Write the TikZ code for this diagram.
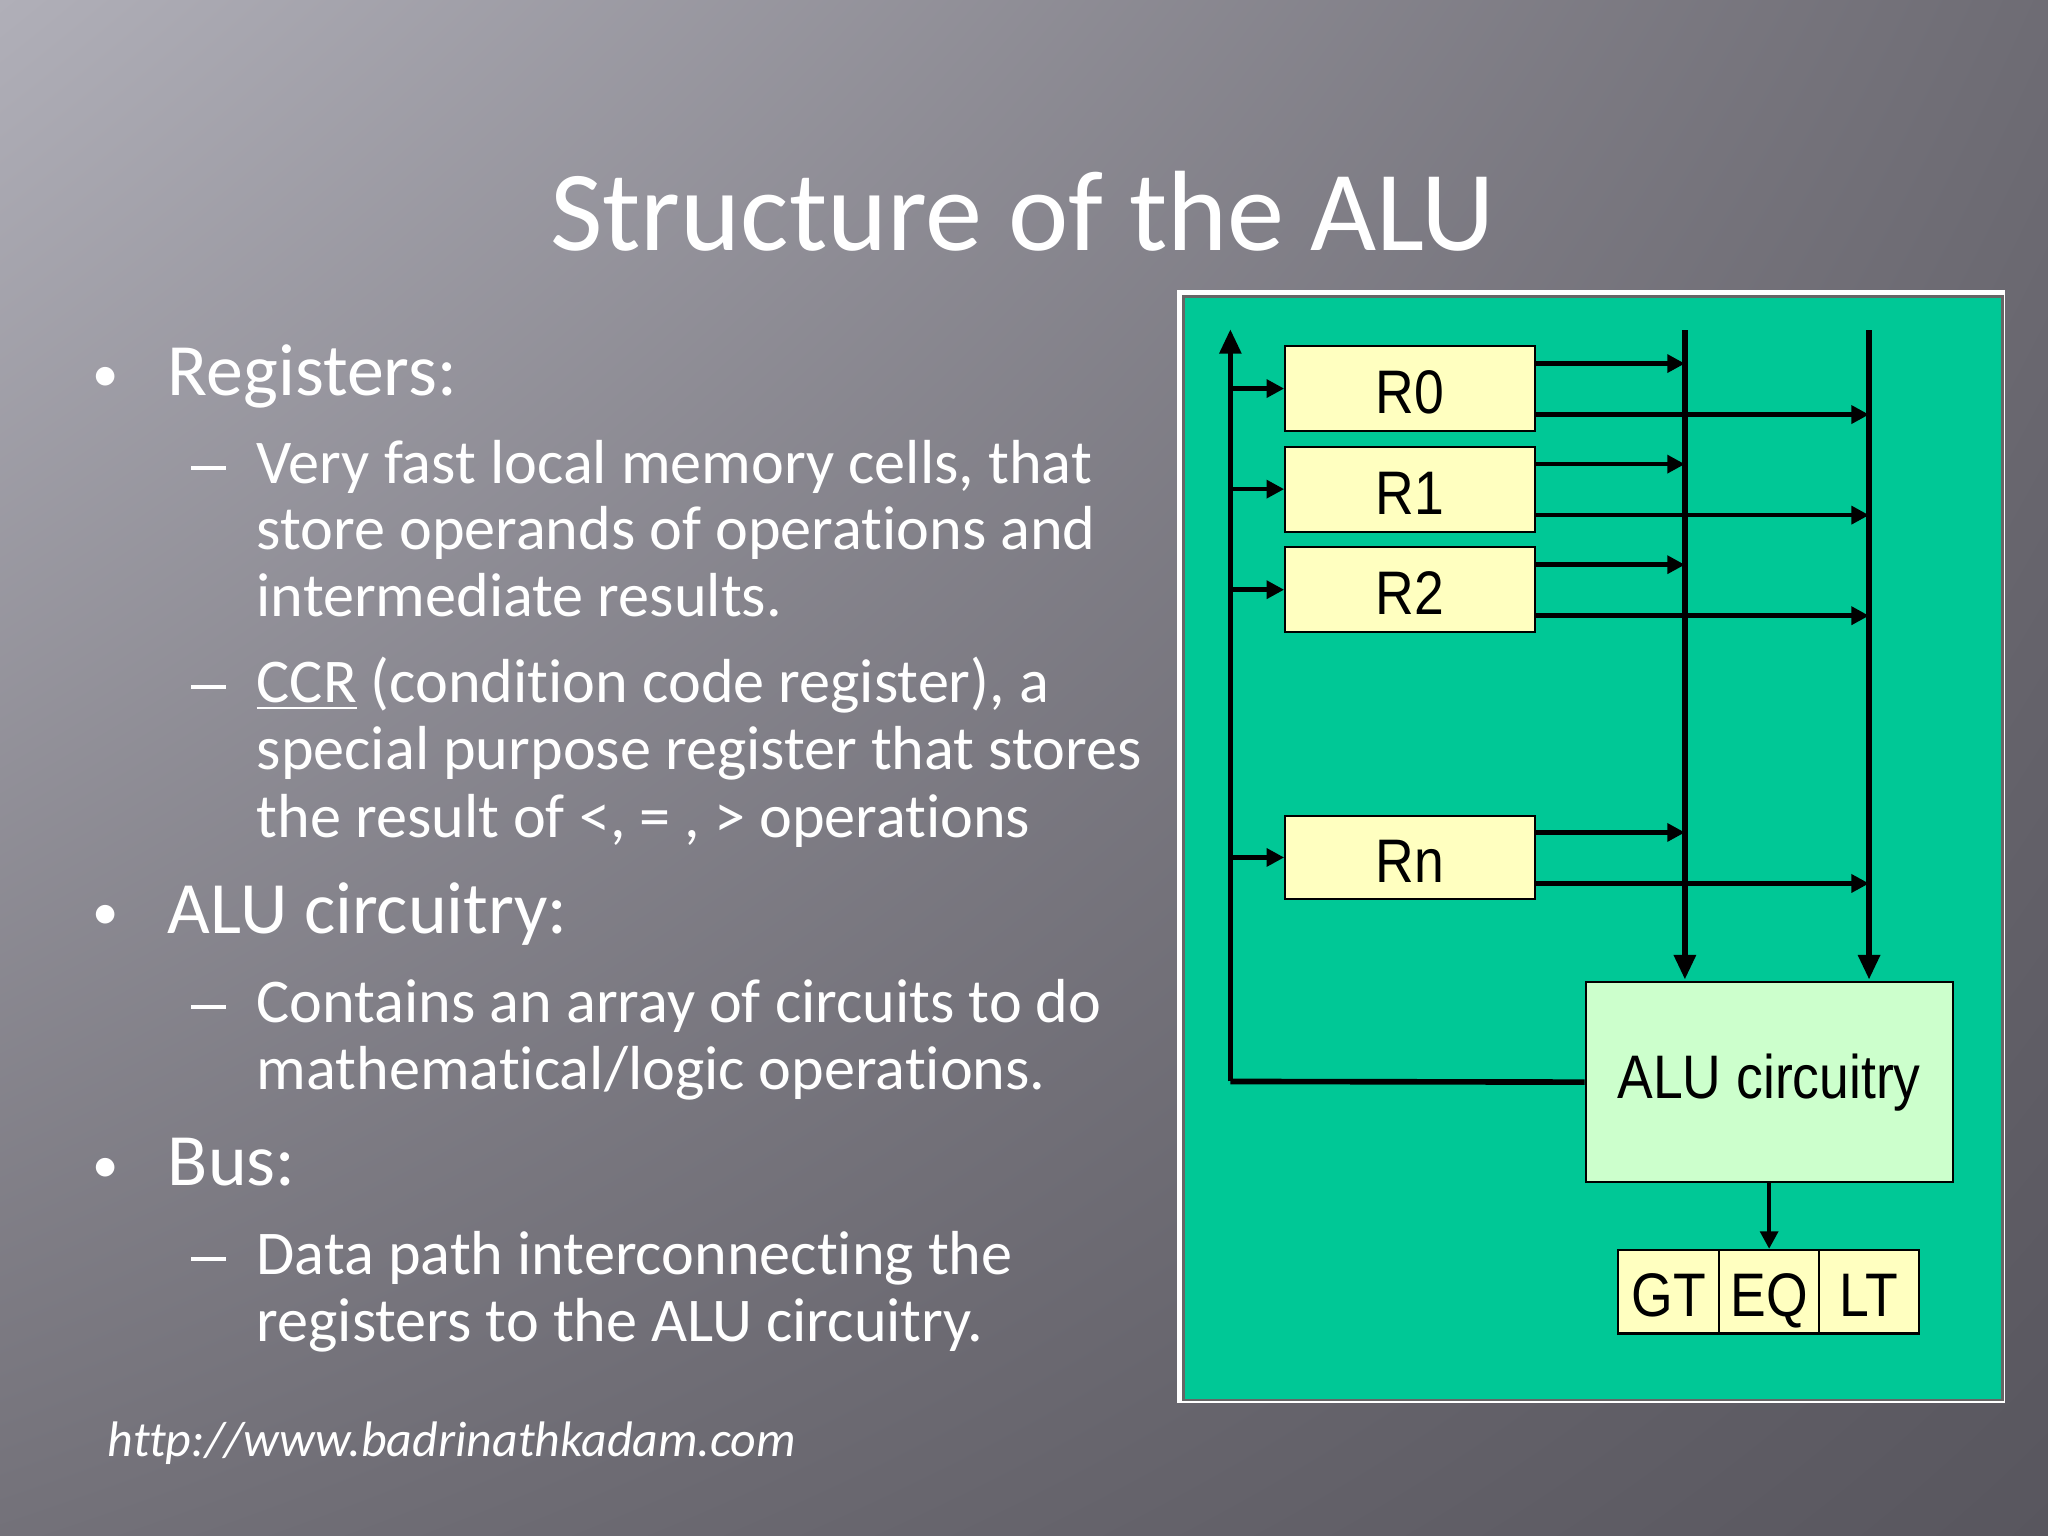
\documentclass[tikz,border=0pt]{standalone}
\usepackage{fontspec}
\setmainfont{Carlito}[Ligatures={NoCommon}]
\newfontfamily\arialf{Liberation Sans}[FakeStretch=0.87]
\usetikzlibrary{arrows.meta,shadings}
\definecolor{bgul}{RGB}{176,175,184}
\definecolor{bgur}{RGB}{110,108,116}
\definecolor{bgll}{RGB}{115,113,121}
\definecolor{bglr}{RGB}{88,86,94}
\definecolor{dgreen}{RGB}{0,200,150}
\definecolor{alugreen}{RGB}{204,255,204}
\definecolor{regy}{RGB}{255,255,192}
\newcommand{\mydash}{\rule[0.22em]{0.55em}{0.06em}}
\begin{document}
\begin{tikzpicture}[x=0.013061cm,y=-0.013061cm,
  txt/.style={anchor=base west,inner sep=0,text=white,font=\fontsize{17.7}{20}\selectfont},
  big/.style={anchor=base west,inner sep=0,text=white,font=\fontsize{21}{24}\selectfont},
  reg/.style={draw=black,line width=0.6pt,fill=regy,font=\arialf\fontsize{17.5}{20}\selectfont,inner sep=0,text height=14.3pt,text depth=0pt},
  bus/.style={line width=1.6pt},
  arr/.style={line width=1.3pt,-{Triangle[length=5pt,width=5pt]}}]
\useasboundingbox (0,0) rectangle (1568,1176);
\shade[upper left=bgul,upper right=bgur,lower left=bgll,lower right=bglr] (0,0) rectangle (1568,1176);
\node[anchor=base,inner sep=0,text=white,font=\fontsize{32.5}{36}\selectfont] (title) at (783,192) {Structure of the ALU};
\node[anchor=base west,inner sep=0,text=white,font=\fontsize{15}{18}\selectfont] (b1) at (70,300) {•};
\node[big] (t1) at (128,303) {Registers:};
\node[txt] (d1) at (146,370) {\mydash};
\node[txt] (l1) at (196,370) {Very fast local memory cells, that};
\node[txt] (l2) at (196,421) {store operands of operations and};
\node[txt] (l3) at (196,472) {intermediate results.};
\node[txt] (d2) at (146,538) {\mydash};
\node[txt] (l4) at (196,538) {\underline{CCR} (condition code register), a};
\node[txt] (l5) at (196,589) {special purpose register that stores};
\node[txt] (l6) at (196,641) {the result of <, = , > operations};
\node[anchor=base west,inner sep=0,text=white,font=\fontsize{15}{18}\selectfont] (b2) at (70,712) {•};
\node[big] (t2) at (128,715) {ALU circuitry:};
\node[txt] (d3) at (146,783) {\mydash};
\node[txt] (l7) at (196,783) {Contains an array of circuits to do};
\node[txt] (l8) at (196,834) {mathematical/logic operations.};
\node[anchor=base west,inner sep=0,text=white,font=\fontsize{15}{18}\selectfont] (b3) at (70,905) {•};
\node[big] (t3) at (128,908) {Bus:};
\node[txt] (d4) at (146,976) {\mydash};
\node[txt] (l9) at (196,976) {Data path interconnecting the};
\node[txt] (l10) at (196,1027) {registers to the ALU circuitry.};
\node[anchor=base west,inner sep=0,text=white,font=\itshape\fontsize{14.2}{16}\selectfont] (url) at (82,1115) {http://www.badrinathkadam.com};
% diagram
\fill[white] (901,222) rectangle (1535,1074);
\fill[black!60] (905,226) rectangle (1534,1073);
\fill[dgreen] (907,228) rectangle (1532,1071);
\node[reg,minimum width=191*0.013061cm,minimum height=65*0.013061cm] (r0) at (1079.5,297.5) {R0};
\node[reg,minimum width=191*0.013061cm,minimum height=65*0.013061cm] (r1) at (1079.5,374.5) {R1};
\node[reg,minimum width=191*0.013061cm,minimum height=65*0.013061cm] (r2) at (1079.5,451.5) {R2};
\node[reg,minimum width=191*0.013061cm,minimum height=63*0.013061cm] (rn) at (1079.5,656.5) {Rn};
\node[draw=black,line width=0.6pt,fill=alugreen,minimum width=281*0.013061cm,minimum height=153*0.013061cm,font=\arialf\fontsize{17.5}{20}\selectfont,inner sep=0] (alu) at (1354.5,828.5) {ALU circuitry};
\node[reg,minimum width=77*0.013061cm,minimum height=64*0.013061cm] (gt) at (1277.5,989) {GT};
\node[reg,minimum width=77*0.013061cm,minimum height=64*0.013061cm] (eq) at (1354.5,989) {EQ};
\node[reg,minimum width=76*0.013061cm,minimum height=64*0.013061cm] (lt) at (1431,989) {LT};
\coordinate (busb) at (942,828);
\coordinate (bust) at (942,252);
\coordinate (v1t) at (1290,253); \coordinate (v1b) at (1290,750);
\coordinate (v2t) at (1431,253); \coordinate (v2b) at (1431,750);
\draw[bus] (alu.west) -- (busb);
\draw[bus,-{Triangle[length=7pt,width=6pt]}] (busb) -- (bust);
\draw[bus,-{Triangle[length=7pt,width=6pt]}] (v1t) -- (v1b);
\draw[bus,-{Triangle[length=7pt,width=6pt]}] (v2t) -- (v2b);
\foreach \r in {r0,r1,r2,rn}{
  \draw[arr] (942,0 |- \r.west) -- (\r.west);
  \draw[arr] ([yshift=2.5mm]\r.east) -- ([yshift=2.5mm]\r.east -| v1t);
  \draw[arr] ([yshift=-2.6mm]\r.east) -- ([yshift=-2.6mm]\r.east -| v2t);
}
\draw[line width=1.3pt,-{Triangle[length=5pt,width=5pt]}] (alu.south) -- (eq.north);
\end{tikzpicture}
\end{document}
